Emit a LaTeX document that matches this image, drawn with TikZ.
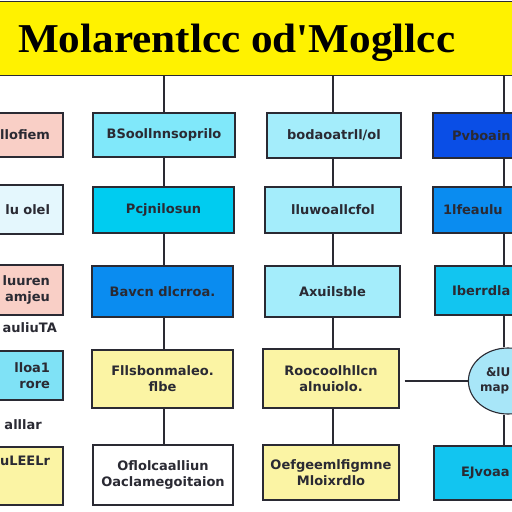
\documentclass[tikz,border=0pt]{standalone}
\usepackage{fontspec}
\setmainfont{DejaVu Sans}
\newfontfamily\titlefont{Liberation Serif}
\usetikzlibrary{shapes.geometric}
\definecolor{salmon}{HTML}{F9CFC6}
\definecolor{pale}{HTML}{E4F7FD}
\definecolor{cyanA}{HTML}{80E8FA}
\definecolor{cyanB}{HTML}{00CCF0}
\definecolor{blueA}{HTML}{0A8CF0}
\definecolor{blueD}{HTML}{0A4EE6}
\definecolor{cyanC}{HTML}{A4EDFB}
\definecolor{cyanD}{HTML}{12C5F0}
\definecolor{cyanL}{HTML}{7FE2F6}
\definecolor{lemon}{HTML}{FBF4A4}
\definecolor{ellfill}{HTML}{A8E6F8}
\definecolor{titley}{HTML}{FFF200}
\definecolor{ink}{HTML}{2A2A33}
\begin{document}
\begin{tikzpicture}[x=1pt,y=-1pt,
  box/.style={draw=ink, line width=1.1pt, inner sep=2pt, align=center,
    font=\fontsize{13}{16}\selectfont\bfseries, text=ink},
  leftbox/.style={box, minimum width=142pt, text width=116pt, align=right},
  rightbox/.style={box, minimum width=142pt, align=left},
  freetext/.style={inner sep=0pt, font=\fontsize{13}{16}\selectfont\bfseries, text=ink},
  link/.style={draw=ink, line width=1.6pt},
  bar/.style={draw=ink, line width=1pt, fill=titley, minimum width=540pt, minimum height=74pt, inner sep=0pt}]
\useasboundingbox (0,0) rectangle (512,512);
\clip (0,0) rectangle (512,512);
\fill[white] (0,0) rectangle (512,512);
% title bar
\node[bar] (bar) at (256,38) {};
\node[anchor=base west, inner sep=0pt] (title) at (18,52)
  {\resizebox{437pt}{\height}{\fontsize{41}{41}\selectfont\titlefont\bfseries Molarentlcc od'Mogllcc}};
% left column (cut off by the picture's edge)
\node[leftbox, fill=salmon, minimum height=44pt] (L1) at (-8,135) {llofiem};
\node[leftbox, fill=pale, minimum height=49pt] (L2) at (-8,209.5) {lu olel};
\node[leftbox, fill=salmon, minimum height=50pt] (L3) at (-8,290) {luuren\\amjeu};
\node[freetext, anchor=east] (F1) at (57,328) {auliuTA};
\node[leftbox, fill=cyanL, minimum height=49pt] (L4) at (-8,375.5) {lloa1\\rore};
\node[freetext, anchor=east] (F2) at (42,425) {alllar};
\node[leftbox, fill=lemon, minimum height=58pt, text height=10pt, text depth=32pt] (L5) at (-8,476) {uLEELr};
% column B
\node[box, fill=cyanA, minimum width=142pt, minimum height=44pt] (B1) at (164,135) {BSoollnnsoprilo};
\node[box, fill=cyanB, minimum width=141pt, minimum height=46pt] (B2) at (163.5,210) {Pcjnilosun};
\node[box, fill=blueA, minimum width=141pt, minimum height=51pt] (B3) at (162.5,291.5) {Bavcn dlcrroa.};
\node[box, fill=lemon, minimum width=141pt, minimum height=58pt] (B4) at (162.5,379) {Fllsbonmaleo.\\flbe};
\node[box, fill=white, minimum width=140pt, minimum height=60pt] (B5) at (163,475) {Oflolcaalliun\\Oaclamegoitaion};
% column C
\node[box, fill=cyanC, minimum width=134pt, minimum height=45pt] (C1) at (334,135.5) {bodaoatrll/ol};
\node[box, fill=cyanC, minimum width=136pt, minimum height=46pt] (C2) at (333,210) {lluwoallcfol};
\node[box, fill=cyanC, minimum width=135pt, minimum height=51pt] (C3) at (332.5,291.5) {Axuilsble};
\node[box, fill=lemon, minimum width=136pt, minimum height=59pt] (C4) at (331,378.5) {Roocoolhllcn\\alnuiolo.};
\node[box, fill=lemon, minimum width=136pt, minimum height=55pt] (C5) at (331,472.5) {Oefgeemlfigmne\\Mloixrdlo};
% column D (cut off by the picture's edge)
\node[rightbox, fill=blueD, minimum height=45pt, text width=104pt] (D1) at (504,135.5) {Pvboain};
\node[rightbox, fill=blueA, minimum height=46pt, text width=122pt] (D2) at (504,210) {1lfeaulu};
\node[rightbox, fill=cyanD, minimum height=49pt, text width=108pt] (D3) at (506,290.5) {Iberrdla};
\node[ellipse, draw=ink, line width=1.1pt, fill=ellfill, minimum width=76pt, minimum height=66pt, inner sep=0pt,
  text width=56pt, align=left, font=\fontsize{12}{15}\selectfont\bfseries, text=ink] (E) at (508,381)
  {\hspace*{6pt}\&lU\\map};
\node[rightbox, fill=cyanD, minimum height=54pt, text width=88pt] (D4) at (505,473) {EJvoaa};
% connectors
\draw[link] (bar.south -| B1.north) -- (B1.north);
\draw[link] (bar.south -| C2.north) -- (C2.north |- C1.north);
\draw[link] (bar.south -| D1.north) -- (D1.north);
\draw[link] (B1.south) -- (B1.south |- B2.north);
\draw[link] (B2.south -| B1.south) -- (B1.south |- B3.north);
\draw[link] (B3.south -| B1.south) -- (B1.south |- B4.north);
\draw[link] (B4.south -| B1.south) -- (B1.south |- B5.north);
\draw[link] (C1.south -| C2.south) -- (C2.north);
\draw[link] (C2.south) -- (C2.south |- C3.north);
\draw[link] (C3.south -| C2.south) -- (C2.south |- C4.north);
\draw[link] (C4.south -| C2.south) -- (C2.south |- C5.north);
\draw[link] (D1.south) -- (D1.south |- D2.north);
\draw[link] (D2.south) -- (D2.south |- D3.north);
\draw[link] (D3.south -| D1.south) -- (D1.south |- E.north);
\draw[link] (E.south -| D1.south) -- (D1.south |- D4.north);
\draw[link] ([xshift=5pt]C4.east |- E.west) -- (E.west);
\end{tikzpicture}
\end{document}
